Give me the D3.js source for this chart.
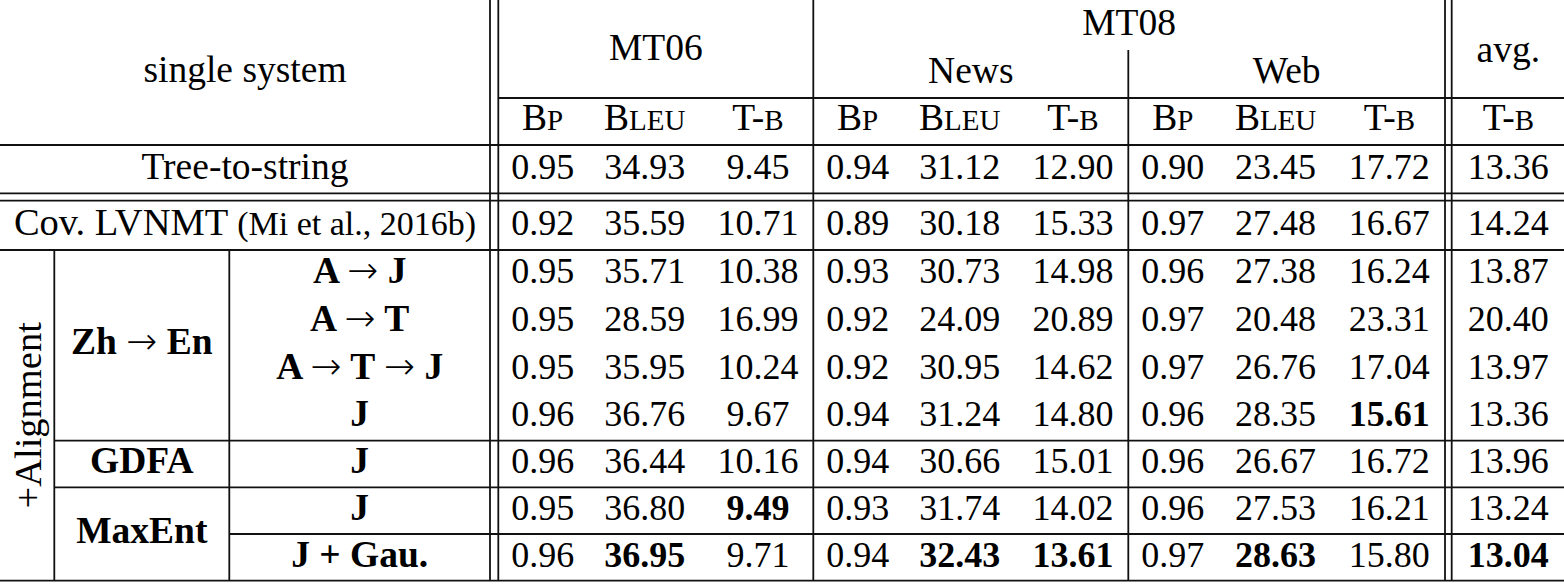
<!DOCTYPE html>
<html>
<head>
<meta charset="utf-8">
<script src="https://cdn.jsdelivr.net/npm/d3@7"></script>
<style>
body { margin: 0; background: #fff; }
svg { display: block; }
svg text { font-family: "Liberation Serif", "Tinos", "Times New Roman", "Nimbus Roman", "DejaVu Serif", serif; fill: #000; }
</style>
</head>
<body>
<svg id="table"></svg>
<script>
// ---- data ----------------------------------------------------------
const rowKeys = ["t2s", "cov", "aj", "at", "atj", "j", "gdfa", "me", "megau"];

const baselineLabels = ["Tree-to-string", "Cov. LVNMT"];
const citation = "(Mi et al., 2016b)";
const alignLabel = "+Alignment";
const alignGroups = ["Zh → En", "GDFA", "MaxEnt"];
const alignGroupSpans = [4, 1, 2];
const methodLabels = ["A → J", "A → T", "A → T → J", "J", "J", "J", "J + Gau."];

const testSets = ["MT06", "MT08"];
const subSets = ["News", "Web"];
const metricLabels = [["B", "P"], ["B", "LEU"], ["T-", "B"]];
const avgLabel = "avg.";
const cornerLabel = "single system";

const bpMT06   = [0.95, 0.92, 0.95, 0.95, 0.95, 0.96, 0.96, 0.95, 0.96];
const bleuMT06 = [34.93, 35.59, 35.71, 28.59, 35.95, 36.76, 36.44, 36.80, 36.95];
const tbMT06   = [9.45, 10.71, 10.38, 16.99, 10.24, 9.67, 10.16, 9.49, 9.71];
const bpNews   = [0.94, 0.89, 0.93, 0.92, 0.92, 0.94, 0.94, 0.93, 0.94];
const bleuNews = [31.12, 30.18, 30.73, 24.09, 30.95, 31.24, 30.66, 31.74, 32.43];
const tbNews   = [12.90, 15.33, 14.98, 20.89, 14.62, 14.80, 15.01, 14.02, 13.61];
const bpWeb    = [0.90, 0.97, 0.96, 0.97, 0.97, 0.96, 0.96, 0.96, 0.97];
const bleuWeb  = [23.45, 27.48, 27.38, 20.48, 26.76, 28.35, 26.67, 27.53, 28.63];
const tbWeb    = [17.72, 16.67, 16.24, 23.31, 17.04, 15.61, 16.72, 16.21, 15.80];
const tbAvg    = [13.36, 14.24, 13.87, 20.40, 13.97, 13.36, 13.96, 13.24, 13.04];

// cells printed in bold: [row index, column key]
const boldCells = [
    [7, "tbMT06"], [8, "bleuMT06"],
    [8, "bleuNews"], [8, "tbNews"],
    [5, "tbWeb"], [8, "bleuWeb"],
    [8, "tbAvg"]
];

const columns = [
    ["bpMT06", bpMT06], ["bleuMT06", bleuMT06], ["tbMT06", tbMT06],
    ["bpNews", bpNews], ["bleuNews", bleuNews], ["tbNews", tbNews],
    ["bpWeb", bpWeb], ["bleuWeb", bleuWeb], ["tbWeb", tbWeb],
    ["tbAvg", tbAvg]
];

// ---- layout --------------------------------------------------------
const width = 1564, height = 586;
const numSize = 36;      // figures
const labelSize = 37.5;  // words
const smallCaps = 29;
const lineColor = "#111";
const serif = "'Liberation Serif', Tinos, 'Times New Roman', 'Nimbus Roman', 'DejaVu Serif', serif";

const svg = d3.select("#table")
    .attr("width", width)
    .attr("height", height)
    .attr("font-family", serif);

// column geometry
const leftEdges = [0, 54.3, 229.3, 490];     // alignment | group | method | ||
const groupStarts = [498.3, 813.3, 1128.3];
const groupEnds = [813.3, 1128.3, 1445];
const subWidths = [88.6, 115.6, 110.6];
const avgStart = 1451.7, avgEnd = 1565;

let colCenters = [];
groupStarts.forEach((g, i) => {
    const k = (groupEnds[i] - g) / d3.sum(subWidths);
    let x = g;
    subWidths.forEach(w => {
        colCenters.push(x + w * k / 2);
        x += w * k;
    });
});
colCenters.push((avgStart + avgEnd) / 2);

const xCol = d3.scaleOrdinal()
    .domain(columns.map(c => c[0]))
    .range(colCenters);

// row geometry
const rowTops    = [145, 200.7, 250, 297.7, 345.4, 393, 440.7, 487.3, 534];
const rowBottoms = [193.3, 250, 297.7, 345.4, 393, 440.7, 487.3, 534, 580.7];
const yTop = d3.scaleOrdinal().domain(rowKeys).range(rowTops);
const yBot = d3.scaleOrdinal().domain(rowKeys).range(rowBottoms);
const baseline = key => yTop(key) + 0.7 * (yBot(key) - yTop(key));

const fmt = d3.format(".2f");

// ---- rules ---------------------------------------------------------
const hLines = [
    [98, groupStarts[0], width],
    [145, 0, width],
    [193.3, 0, width],
    [200.7, 0, width],
    [250, 0, width],
    [440.7, leftEdges[1], width],
    [487.3, leftEdges[1], width],
    [534, leftEdges[2], width],
    [580.7, 0, width]
];
const vLines = [
    [leftEdges[1], 250, 580.7],
    [leftEdges[2], 250, 580.7],
    [leftEdges[3], 0, 580.7],
    [groupStarts[0], 0, 580.7],
    [groupStarts[1], 0, 580.7],
    [groupStarts[2], 50, 580.7],
    [groupEnds[2], 0, 580.7],
    [avgStart, 0, 580.7]
];

svg.append("g").selectAll("line.h")
    .data(hLines)
    .join("line")
    .attr("x1", d => d[1]).attr("x2", d => d[2])
    .attr("y1", d => d[0]).attr("y2", d => d[0])
    .attr("stroke", lineColor)
    .attr("stroke-width", 1.8);

svg.append("g").selectAll("line.v")
    .data(vLines)
    .join("line")
    .attr("x1", d => d[0]).attr("x2", d => d[0])
    .attr("y1", d => d[1]).attr("y2", d => d[2])
    .attr("stroke", lineColor)
    .attr("stroke-width", 1.8);

// ---- header --------------------------------------------------------
const header = svg.append("g")
    .attr("font-size", labelSize)
    .attr("text-anchor", "middle");

header.append("text")
    .attr("x", (leftEdges[0] + leftEdges[3]) / 2)
    .attr("y", 81.7)
    .text(cornerLabel);

header.append("text")
    .attr("x", (groupStarts[0] + groupEnds[0]) / 2)
    .attr("y", 60)
    .text(testSets[0]);

header.append("text")
    .attr("x", (groupStarts[1] + groupEnds[2]) / 2)
    .attr("y", 35)
    .text(testSets[1]);

subSets.forEach((s, i) => {
    header.append("text")
        .attr("x", (groupStarts[i + 1] + groupEnds[i + 1]) / 2)
        .attr("y", 83)
        .text(s);
});

header.append("text")
    .attr("x", (avgStart + avgEnd) / 2)
    .attr("y", 62)
    .text(avgLabel);

columns.forEach(([key], i) => {
    const m = i === columns.length - 1 ? metricLabels[2] : metricLabels[i % 3];
    const t = header.append("text")
        .attr("x", xCol(key))
        .attr("y", 129.5);
    t.append("tspan").text(m[0]);
    t.append("tspan").attr("font-size", smallCaps).text(m[1]);
});

// ---- row labels ----------------------------------------------------
const labels = svg.append("g")
    .attr("font-size", labelSize)
    .attr("text-anchor", "middle");

const fullMid = (leftEdges[0] + leftEdges[3]) / 2;

labels.append("text")
    .attr("x", fullMid)
    .attr("y", baseline("t2s"))
    .text(baselineLabels[0]);

const covText = labels.append("text")
    .attr("x", fullMid)
    .attr("y", baseline("cov"));
covText.append("tspan").attr("font-size", 38.5).text(baselineLabels[1] + " ");
covText.append("tspan").attr("font-size", 34).text(citation);

// rotated +Alignment
const alignMid = (rowTops[2] + rowBottoms[rowBottoms.length - 1]) / 2;
labels.append("text")
    .attr("font-size", 38.5)
    .attr("transform", `translate(${(leftEdges[0] + leftEdges[1]) / 2 + 14},${alignMid}) rotate(-90)`)
    .text(alignLabel);

// bold labels, arrows kept thin and drawn longer (math arrow)
function boldLabel(sel, str) {
    str.split(/(→)/).forEach(part => {
        if (part === "") return;
        const t = sel.append("tspan").text(part);
        if (part === "→") {
            t.attr("font-weight", 200)
             .attr("font-family", "'DejaVu Sans', sans-serif")
             .attr("font-size", 37);
        } else {
            t.attr("font-weight", "bold");
        }
    });
}

let r = 2;
alignGroups.forEach((g, i) => {
    const span = alignGroupSpans[i];
    const top = yTop(rowKeys[r]);
    const bot = yBot(rowKeys[r + span - 1]);
    const t = labels.append("text")
        .attr("x", (leftEdges[1] + leftEdges[2]) / 2)
        .attr("y", (top + bot) / 2 + 8.5);
    boldLabel(t, g);
    r += span;
});

methodLabels.forEach((m, i) => {
    const key = rowKeys[i + 2];
    const t = labels.append("text")
        .attr("x", (leftEdges[2] + leftEdges[3]) / 2)
        .attr("y", baseline(key));
    boldLabel(t, m);
});

// ---- values --------------------------------------------------------
const isBold = (ri, key) => boldCells.some(b => b[0] === ri && b[1] === key);

const cells = [];
columns.forEach(([key, vals]) => {
    vals.forEach((v, ri) => cells.push({ key, ri, v }));
});

svg.append("g")
    .attr("font-size", numSize)
    .attr("text-anchor", "middle")
    .selectAll("text")
    .data(cells)
    .join("text")
    .attr("x", d => xCol(d.key))
    .attr("y", d => baseline(rowKeys[d.ri]))
    .attr("font-weight", d => isBold(d.ri, d.key) ? "bold" : "normal")
    .text(d => fmt(d.v));
</script>
</body>
</html>
